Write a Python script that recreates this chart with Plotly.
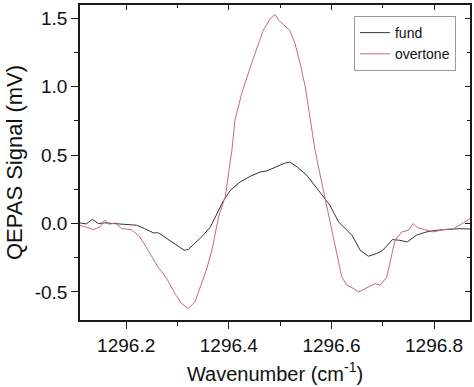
import plotly.graph_objects as go

# ---- data ----
fund_x = [1296.110, 1296.122, 1296.134, 1296.146, 1296.158, 1296.175, 1296.190, 1296.204,
          1296.220, 1296.236, 1296.253, 1296.263, 1296.275, 1296.288, 1296.301, 1296.313,
          1296.321, 1296.334, 1296.350, 1296.364, 1296.377, 1296.390, 1296.403, 1296.422,
          1296.442, 1296.461, 1296.474, 1296.494, 1296.508, 1296.519, 1296.533, 1296.552,
          1296.565, 1296.584, 1296.597, 1296.614, 1296.630, 1296.640, 1296.656, 1296.672,
          1296.688, 1296.700, 1296.719, 1296.732, 1296.748, 1296.765, 1296.785, 1296.805,
          1296.830, 1296.850, 1296.870]
fund_y = [0.005, -0.003, 0.030, 0.000, 0.005, 0.000, 0.000, -0.005,
          -0.012, -0.037, -0.068, -0.068, -0.098, -0.127, -0.159, -0.195,
          -0.190, -0.146, -0.086, -0.025, 0.070, 0.170, 0.243, 0.304,
          0.346, 0.377, 0.385, 0.414, 0.440, 0.450, 0.414, 0.353,
          0.292, 0.195, 0.134, 0.012, -0.049, -0.086, -0.195, -0.239,
          -0.219, -0.195, -0.117, -0.122, -0.134, -0.086, -0.061, -0.049,
          -0.042, -0.037, -0.040]

over_x = [1296.110, 1296.119, 1296.136, 1296.149, 1296.158, 1296.168, 1296.179, 1296.191,
          1296.210, 1296.227, 1296.243, 1296.262, 1296.279, 1296.295, 1296.308, 1296.321,
          1296.334, 1296.347, 1296.357, 1296.367, 1296.380, 1296.393, 1296.406, 1296.412,
          1296.425, 1296.442, 1296.455, 1296.467, 1296.481, 1296.490, 1296.497, 1296.510,
          1296.519, 1296.529, 1296.539, 1296.549, 1296.558, 1296.568, 1296.580, 1296.590,
          1296.604, 1296.620, 1296.630, 1296.640, 1296.653, 1296.668, 1296.685, 1296.695,
          1296.708, 1296.718, 1296.724, 1296.737, 1296.750, 1296.759, 1296.768, 1296.782,
          1296.799, 1296.818, 1296.838, 1296.857, 1296.870]
over_y = [-0.012, -0.025, -0.044, -0.025, 0.024, -0.005, 0.005, -0.037,
          -0.044, -0.098, -0.195, -0.317, -0.402, -0.512, -0.585, -0.621,
          -0.573, -0.439, -0.330, -0.195, 0.048, 0.195, 0.536, 0.755,
          0.950, 1.145, 1.290, 1.413, 1.499, 1.530, 1.486, 1.442,
          1.413, 1.316, 1.170, 0.999, 0.768, 0.536, 0.320, 0.140,
          -0.110, -0.390, -0.451, -0.468, -0.500, -0.470, -0.439, -0.451,
          -0.390, -0.219, -0.122, -0.061, -0.049, 0.000, -0.030, -0.045,
          -0.061, -0.044, -0.037, 0.005, 0.035]

x_ticks = [1296.2, 1296.4, 1296.6, 1296.8]
x_tick_labels = ["1296.2", "1296.4", "1296.6", "1296.8"]
y_ticks = [-0.5, 0.0, 0.5, 1.0, 1.5]
y_tick_labels = ["-0.5", "0.0", "0.5", "1.0", "1.5"]
x_range = [1296.11, 1296.87]
y_range = [-0.705, 1.598]

FONT = "Arial, Liberation Sans, sans-serif"
AX = "#1a1a1a"

fig = go.Figure()
fig.add_trace(go.Scatter(x=fund_x, y=fund_y, mode="lines", name="fund",
                         line=dict(color="#333333", width=1)))
fig.add_trace(go.Scatter(x=over_x, y=over_y, mode="lines", name="overtone",
                         line=dict(color="#c46b78", width=1)))
# invisible trace to carry the mirrored (top/right) axes
fig.add_trace(go.Scatter(x=fund_x, y=fund_y, mode="lines", xaxis="x2", yaxis="y2",
                         showlegend=False, hoverinfo="skip", opacity=0,
                         line=dict(width=0)))

common = dict(showgrid=False, zeroline=False, showline=True, linecolor=AX, linewidth=1.5,
              tickcolor=AX, tickwidth=1.2, automargin=False)

fig.update_layout(
    template="none",
    width=474, height=387,
    margin=dict(l=80, r=4, t=5, b=67, autoexpand=False),
    paper_bgcolor="white", plot_bgcolor="white",
    font=dict(family=FONT, color="#111111"),
    xaxis=dict(range=x_range, tickvals=x_ticks, ticktext=x_tick_labels,
               ticks="outside", ticklen=7,
               minor=dict(dtick=0.1, tick0=1296.2, ticks="outside", ticklen=4,
                          tickcolor=AX, tickwidth=1.2),
               tickfont=dict(size=19, family=FONT),
               title=dict(text="Wavenumber (cm<sup>-1</sup>)", font=dict(size=20, family=FONT),
                          standoff=12),
               **common),
    yaxis=dict(range=y_range, tickvals=y_ticks, ticktext=y_tick_labels,
               ticks="outside", ticklen=7,
               minor=dict(dtick=0.25, tick0=0, ticks="outside", ticklen=4,
                          tickcolor=AX, tickwidth=1.2),
               tickfont=dict(size=19, family=FONT),
               title=dict(text="QEPAS Signal (mV)", font=dict(size=22, family=FONT),
                          standoff=6),
               **common),
    xaxis2=dict(range=x_range, overlaying="x", side="top", anchor="y2",
                tickvals=x_ticks, showticklabels=False, ticks="inside", ticklen=5,
                minor=dict(dtick=0.1, tick0=1296.2, ticks="inside", ticklen=3,
                           tickcolor=AX, tickwidth=1.2),
                **common),
    yaxis2=dict(range=y_range, overlaying="y", side="right", anchor="x2",
                tickvals=y_ticks, showticklabels=False, ticks="inside", ticklen=5,
                minor=dict(dtick=0.25, tick0=0, ticks="inside", ticklen=3,
                           tickcolor=AX, tickwidth=1.2),
                **common),
    legend=dict(x=0.964, y=0.965, xanchor="right", yanchor="top",
                bgcolor="white", bordercolor="#9a9a9a", borderwidth=1,
                font=dict(size=14, family=FONT), tracegroupgap=0,
                itemwidth=30),
    showlegend=True,
)

fig.write_html("out.html", config={"displayModeBar": False},
               post_script="document.body.style.margin='0';")
